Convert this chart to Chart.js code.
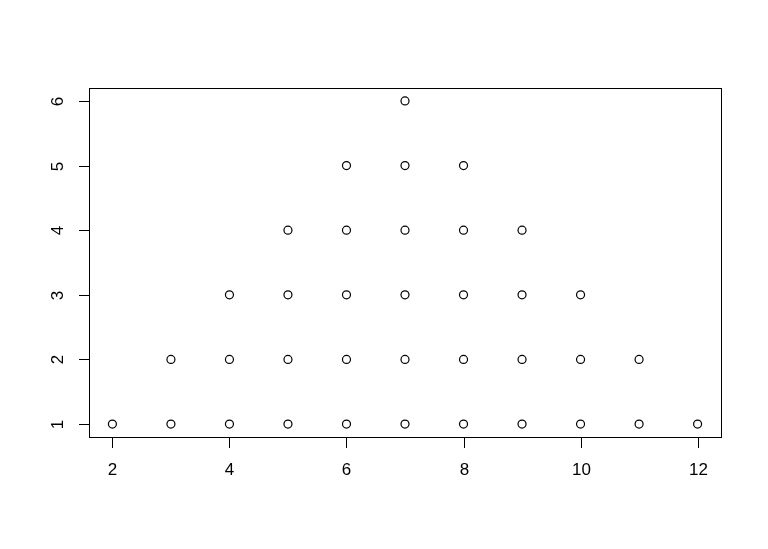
<!DOCTYPE html>
<html>
<head>
<meta charset="utf-8">
<script src="https://cdn.jsdelivr.net/npm/chart.js@4.4.0/dist/chart.umd.min.js"></script>
<style>
  body { margin: 0; background: #fff; }
  #wrap { width: 768px; height: 549px; position: relative; }
</style>
</head>
<body>
<div id="wrap"><canvas id="dicePlot"></canvas></div>
<script>
// dice sums and how many stacked points each one gets
const sums = [2, 3, 4, 5, 6, 7, 8, 9, 10, 11, 12];
const counts = [1, 2, 3, 4, 5, 6, 5, 4, 3, 2, 1];
const xTicks = [2, 4, 6, 8, 10, 12];
const yTicks = [1, 2, 3, 4, 5, 6];

const points = [];
sums.forEach(function (s, i) {
    for (let k = 1; k <= counts[i]; k++) {
        points.push({ x: s, y: k });
    }
});

// draws an R-style box, ticks and labels using the chart's scales
const baseAxes = {
    id: 'baseAxes',
    afterDraw(chart) {
        const ctx = chart.ctx;
        const area = chart.chartArea;
        const xs = chart.scales.x;
        const ys = chart.scales.y;
        ctx.save();
        ctx.strokeStyle = '#000';
        ctx.lineWidth = 1;
        ctx.strokeRect(Math.round(area.left) + 0.5, Math.round(area.top) + 0.5,
            Math.round(area.right - area.left), Math.round(area.bottom - area.top));

        ctx.fillStyle = '#000';
        ctx.font = '17px "Liberation Sans", Arial, sans-serif';
        ctx.textAlign = 'center';
        ctx.textBaseline = 'middle';

        xTicks.forEach(function (t) {
            const px = Math.round(xs.getPixelForValue(t)) + 0.5;
            ctx.beginPath();
            ctx.moveTo(px, area.bottom);
            ctx.lineTo(px, area.bottom + 11);
            ctx.stroke();
            ctx.fillText(String(t), px, area.bottom + 33);
        });

        yTicks.forEach(function (t) {
            const py = Math.round(ys.getPixelForValue(t)) + 0.5;
            ctx.beginPath();
            ctx.moveTo(area.left, py);
            ctx.lineTo(area.left - 10, py);
            ctx.stroke();
            ctx.save();
            ctx.translate(area.left - 31, py);
            ctx.rotate(-Math.PI / 2);
            ctx.fillText(String(t), 0, 0);
            ctx.restore();
        });
        ctx.restore();
    }
};

new Chart(document.getElementById('dicePlot'), {
    type: 'scatter',
    data: {
        datasets: [{
            data: points,
            pointRadius: 4,
            pointHoverRadius: 4,
            pointBorderWidth: 1.2,
            borderColor: '#000',
            backgroundColor: 'rgba(0,0,0,0)',
            clip: false
        }]
    },
    options: {
        responsive: true,
        maintainAspectRatio: false,
        animation: false,
        events: [],
        layout: { padding: { left: 89, right: 47, top: 88, bottom: 112 } },
        scales: {
            x: { type: 'linear', min: 1.6, max: 12.4, display: false },
            y: { type: 'linear', min: 0.8, max: 6.2, display: false }
        },
        plugins: {
            legend: { display: false },
            tooltip: { enabled: false }
        }
    },
    plugins: [baseAxes]
});
</script>
</body>
</html>
